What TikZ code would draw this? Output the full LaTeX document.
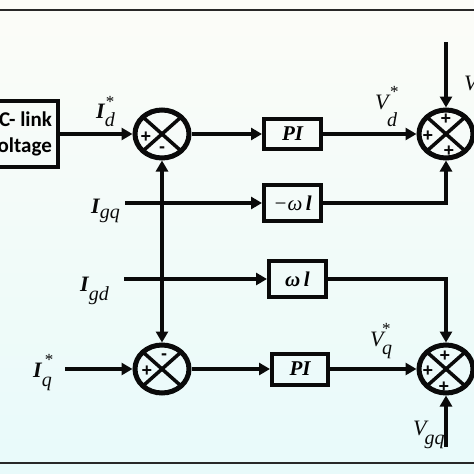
\documentclass[tikz,border=0pt]{standalone}
\usepackage{fontspec}
\setmainfont{Liberation Serif}
\newfontfamily\dcfont{Carlito}
\newfontfamily\sgnfont{Liberation Sans}
\usetikzlibrary{arrows.meta,shapes.geometric}
\definecolor{bgtop}{RGB}{252,252,248}
\definecolor{bgmid}{RGB}{246,252,250}
\definecolor{bgbot}{RGB}{232,250,250}
\definecolor{ink}{RGB}{10,10,10}
\newcommand\mainI{\fontsize{22}{22}\selectfont\bfseries\itshape I}
\newcommand\mainV{\fontsize{22}{22}\selectfont\mdseries\itshape V}
\newcommand\sbs[2]{\raisebox{-#1pt}{\fontsize{20}{20}\selectfont\mdseries\itshape #2}}
\newcommand\sbst[4]{\raisebox{-#1pt}{\fontsize{20}{20}\selectfont\mdseries\itshape\rlap{\kern#3pt\raisebox{#4pt}{\upshape\fontsize{17}{17}\selectfont *}}#2}}
\begin{document}
\begin{tikzpicture}[x=1pt,y=-1pt,
  sumnode/.style={ellipse, draw=ink, line width=5pt, minimum width=54pt, minimum height=48pt, inner sep=0pt,
    path picture={\draw[ink, line width=3.5pt]
      (path picture bounding box.north west) -- (path picture bounding box.south east)
      (path picture bounding box.north east) -- (path picture bounding box.south west);}},
  blk/.style={draw=ink, line width=4pt, inner sep=0pt, font=\fontsize{21}{21}\selectfont\bfseries\itshape},
  arr/.style={draw=ink, line width=3.5pt, -{Triangle[length=11pt,width=12pt]}},
  dbl/.style={draw=ink, line width=3.5pt, {Triangle[length=11pt,width=12pt]}-{Triangle[length=11pt,width=12pt]}},
  lab/.style={anchor=base west, inner sep=0pt, text=ink},
  sgn/.style={inner sep=0pt, text=ink, font=\sgnfont\bfseries\fontsize{18}{18}\selectfont},
  border/.style={draw={rgb,255:red,40;green,40;blue,40}, line width=1.6pt}]
\useasboundingbox (0,0) rectangle (474,474);
\clip (0,0) rectangle (474,474);
\shade[top color=bgtop, middle color=bgmid, bottom color=bgbot] (0,0) rectangle (474,474);
\draw[border] (0,10) -- (474,10);
\draw[border] (0,463) -- (474,463);

% blocks
\node[draw=ink, line width=4pt, minimum width=78pt, minimum height=66pt, inner sep=0pt, align=center,
  font=\dcfont\bfseries\fontsize{21}{26}\selectfont] (dc) at (19,134) {DC- link\\Voltage};
\node[sumnode] (s1) at (162,134) {};
\node[sumnode] (s2) at (162,369) {};
\node[sumnode] (s3) at (446,134) {};
\node[sumnode] (s4) at (446,369) {};
\node[blk, minimum width=57pt, minimum height=30pt] (pi1) at (292.5,134) {PI};
\node[blk, minimum width=57pt, minimum height=36pt] (nwl) at (292.5,203) {{\mdseries −ω}\,l};
\node[blk, minimum width=57pt, minimum height=36pt] (wl) at (297.5,279) {ω\,l};
\node[blk, minimum width=56pt, minimum height=31pt] (pi2) at (300,369) {PI};

% signs
\node[sgn] (s1a) at ([shift={(-16,3)}]s1.center) {+};
\node[sgn] (s1b) at ([shift={(0,16)}]s1.center) {-};
\node[sgn] (s2a) at ([shift={(-15,2)}]s2.center) {+};
\node[sgn] (s2b) at ([shift={(2,-12)}]s2.center) {-};
\node[sgn] (s3a) at ([shift={(0,-15)}]s3.center) {+};
\node[sgn] (s3b) at ([shift={(-18,2)}]s3.center) {+};
\node[sgn] (s3c) at ([shift={(3,17)}]s3.center) {+};
\node[sgn] (s4a) at ([shift={(-1,-13)}]s4.center) {+};
\node[sgn] (s4b) at ([shift={(-18,2)}]s4.center) {+};
\node[sgn] (s4c) at ([shift={(-2,18)}]s4.center) {+};

% free ends
\coordinate (igq) at (125,203);
\coordinate (igd) at (124,279);
\coordinate (iq) at (65,369);
\coordinate (vgdin) at (446,42);
\coordinate (vgqin) at (446,447);

% connectors
\draw[arr] (dc.east) -- (s1.west);
\draw[arr] (s1.east) -- (pi1.west);
\draw[arr] (pi1.east) -- (s3.west);
\draw[arr] (vgdin) -- (s3.north);
\draw[arr] (igq) -- (nwl.west);
\draw[arr] (nwl.east) -| (s3.south);
\draw[dbl] (s1.south) -- (s2.north);
\draw[arr] (igd) -- (wl.west);
\draw[arr] (wl.east) -| (s4.north);
\draw[arr] (iq) -- (s2.west);
\draw[arr] (s2.east) -- (pi2.west);
\draw[arr] (pi2.east) -- (s4.west);
\draw[arr] (vgqin) -- (s4.south);

% labels
\node[lab] (lid) at (96,118) {\mainI\sbst{8}{d}{1}{19}};
\node[lab] (lgq) at (91,213) {\mainI\sbs{5}{gq}};
\node[lab] (lgd) at (80,291) {\mainI\sbs{9}{gd}};
\node[lab] (liq) at (33,377) {\mainI\sbst{9}{q}{3}{21}};
\node[lab] (lvd) at (375,109) {\mainV\kern-1.5pt\sbst{17}{d}{3}{29}};
\node[lab] (lvq) at (370,346) {\mainV\kern-1.5pt\sbst{8}{q}{0}{20}};
\node[lab] (lvgq) at (413,435) {\mainV\kern-2pt\sbs{9}{gq}};
\node[lab] (lvgd) at (464,90) {\mainV\kern-1.5pt\sbs{9}{gd}};
\end{tikzpicture}
\end{document}
